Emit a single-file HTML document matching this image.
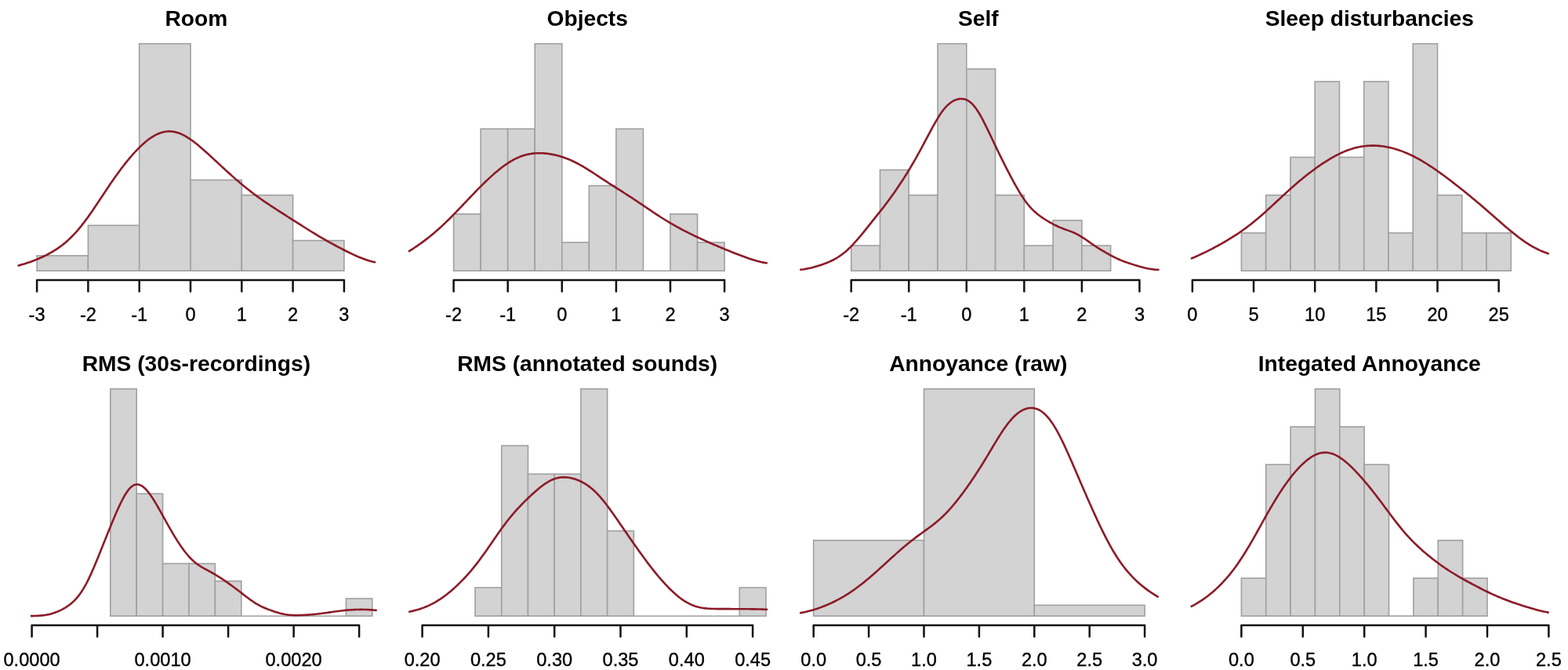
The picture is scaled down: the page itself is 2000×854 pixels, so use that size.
<!DOCTYPE html><html><head><meta charset="utf-8"><style>html,body{margin:0;padding:0;background:#fff}svg{display:block}</style></head><body>
<svg width="2000" height="854" viewBox="0 0 2000 854">
<rect width="2000" height="854" fill="#fff"/>
<text x="250.4" y="32.9" text-anchor="middle" font-family="Liberation Sans, Arial, sans-serif" font-weight="bold" font-size="28.2">Room</text>
<g fill="#d3d3d3" stroke="#a0a0a0" stroke-width="1.6"><rect x="47.1" y="325.9" width="65.3" height="19.3"/><rect x="112.4" y="287.3" width="65.3" height="57.9"/><rect x="177.7" y="55.7" width="65.3" height="289.5"/><rect x="243" y="229.4" width="65.3" height="115.8"/><rect x="308.3" y="248.7" width="65.3" height="96.5"/><rect x="373.6" y="306.6" width="65.3" height="38.6"/></g>
<path d="M23.6 338.39 L25.6 337.87 L27.6 337.32 L29.61 336.74 L31.61 336.14 L33.61 335.51 L35.61 334.85 L37.61 334.16 L39.61 333.45 L41.62 332.71 L43.62 331.95 L45.62 331.16 L47.62 330.34 L49.62 329.49 L51.62 328.62 L53.63 327.71 L55.63 326.78 L57.63 325.81 L59.63 324.8 L61.63 323.76 L63.64 322.68 L65.64 321.55 L67.64 320.38 L69.64 319.16 L71.64 317.89 L73.64 316.56 L75.65 315.17 L77.65 313.71 L79.65 312.2 L81.65 310.61 L83.65 308.95 L85.65 307.21 L87.66 305.39 L89.66 303.5 L91.66 301.52 L93.66 299.46 L95.66 297.33 L97.67 295.1 L99.67 292.8 L101.67 290.42 L103.67 287.96 L105.67 285.43 L107.67 282.82 L109.68 280.15 L111.68 277.42 L113.68 274.63 L115.68 271.79 L117.68 268.91 L119.68 265.98 L121.69 263.03 L123.69 260.04 L125.69 257.04 L127.69 254.03 L129.69 251.01 L131.7 247.99 L133.7 244.97 L135.7 241.97 L137.7 238.98 L139.7 236.02 L141.7 233.08 L143.71 230.17 L145.71 227.3 L147.71 224.47 L149.71 221.67 L151.71 218.92 L153.71 216.22 L155.72 213.57 L157.72 210.96 L159.72 208.41 L161.72 205.9 L163.72 203.46 L165.73 201.07 L167.73 198.74 L169.73 196.46 L171.73 194.25 L173.73 192.11 L175.73 190.03 L177.74 188.01 L179.74 186.07 L181.74 184.21 L183.74 182.42 L185.74 180.71 L187.74 179.09 L189.75 177.56 L191.75 176.13 L193.75 174.78 L195.75 173.55 L197.75 172.41 L199.76 171.39 L201.76 170.47 L203.76 169.67 L205.76 168.99 L207.76 168.43 L209.76 167.99 L211.77 167.68 L213.77 167.49 L215.77 167.42 L217.77 167.47 L219.77 167.65 L221.77 167.95 L223.78 168.37 L225.78 168.9 L227.78 169.55 L229.78 170.3 L231.78 171.16 L233.79 172.12 L235.79 173.17 L237.79 174.31 L239.79 175.54 L241.79 176.84 L243.79 178.22 L245.8 179.66 L247.8 181.17 L249.8 182.72 L251.8 184.33 L253.8 185.99 L255.8 187.68 L257.81 189.4 L259.81 191.16 L261.81 192.94 L263.81 194.74 L265.81 196.56 L267.81 198.39 L269.82 200.24 L271.82 202.09 L273.82 203.95 L275.82 205.8 L277.82 207.66 L279.83 209.52 L281.83 211.37 L283.83 213.22 L285.83 215.06 L287.83 216.89 L289.83 218.71 L291.84 220.52 L293.84 222.32 L295.84 224.11 L297.84 225.88 L299.84 227.63 L301.84 229.37 L303.85 231.09 L305.85 232.8 L307.85 234.48 L309.85 236.14 L311.85 237.79 L313.86 239.41 L315.86 241.01 L317.86 242.59 L319.86 244.15 L321.86 245.68 L323.86 247.19 L325.87 248.69 L327.87 250.16 L329.87 251.61 L331.87 253.04 L333.87 254.45 L335.87 255.85 L337.88 257.22 L339.88 258.58 L341.88 259.93 L343.88 261.27 L345.88 262.59 L347.89 263.9 L349.89 265.21 L351.89 266.51 L353.89 267.8 L355.89 269.08 L357.89 270.37 L359.9 271.65 L361.9 272.93 L363.9 274.2 L365.9 275.48 L367.9 276.76 L369.9 278.03 L371.91 279.31 L373.91 280.59 L375.91 281.87 L377.91 283.15 L379.91 284.42 L381.92 285.7 L383.92 286.97 L385.92 288.24 L387.92 289.5 L389.92 290.77 L391.92 292.02 L393.93 293.27 L395.93 294.51 L397.93 295.74 L399.93 296.96 L401.93 298.18 L403.93 299.38 L405.94 300.58 L407.94 301.76 L409.94 302.93 L411.94 304.09 L413.94 305.24 L415.95 306.38 L417.95 307.51 L419.95 308.63 L421.95 309.73 L423.95 310.83 L425.95 311.92 L427.96 313 L429.96 314.07 L431.96 315.13 L433.96 316.17 L435.96 317.21 L437.96 318.24 L439.97 319.26 L441.97 320.26 L443.97 321.25 L445.97 322.23 L447.97 323.19 L449.98 324.13 L451.98 325.06 L453.98 325.96 L455.98 326.83 L457.98 327.68 L459.98 328.5 L461.99 329.29 L463.99 330.05 L465.99 330.76 L467.99 331.44 L469.99 332.08 L471.99 332.67 L474 333.21 L476 333.7 L478 334.14" fill="none" stroke="#8c1b28" stroke-width="2.6" stroke-linejoin="round" stroke-linecap="round"/>
<path d="M47.1 357.1 H438.9 M47.1 357.1 V371.6 M112.4 357.1 V371.6 M177.7 357.1 V371.6 M243 357.1 V371.6 M308.3 357.1 V371.6 M373.6 357.1 V371.6 M438.9 357.1 V371.6" fill="none" stroke="#111" stroke-width="2.5" stroke-linecap="round" stroke-linejoin="round"/>
<text x="47.1" y="409.1" text-anchor="middle" font-family="Liberation Sans, Arial, sans-serif" font-size="23.6" stroke="#000" stroke-width="0.35">-3</text>
<text x="112.4" y="409.1" text-anchor="middle" font-family="Liberation Sans, Arial, sans-serif" font-size="23.6" stroke="#000" stroke-width="0.35">-2</text>
<text x="177.7" y="409.1" text-anchor="middle" font-family="Liberation Sans, Arial, sans-serif" font-size="23.6" stroke="#000" stroke-width="0.35">-1</text>
<text x="243" y="409.1" text-anchor="middle" font-family="Liberation Sans, Arial, sans-serif" font-size="23.6" stroke="#000" stroke-width="0.35">0</text>
<text x="308.3" y="409.1" text-anchor="middle" font-family="Liberation Sans, Arial, sans-serif" font-size="23.6" stroke="#000" stroke-width="0.35">1</text>
<text x="373.6" y="409.1" text-anchor="middle" font-family="Liberation Sans, Arial, sans-serif" font-size="23.6" stroke="#000" stroke-width="0.35">2</text>
<text x="438.9" y="409.1" text-anchor="middle" font-family="Liberation Sans, Arial, sans-serif" font-size="23.6" stroke="#000" stroke-width="0.35">3</text>
<text x="749.2" y="32.9" text-anchor="middle" font-family="Liberation Sans, Arial, sans-serif" font-weight="bold" font-size="28.2">Objects</text>
<g fill="#d3d3d3" stroke="#a0a0a0" stroke-width="1.6"><rect x="578.6" y="272.82" width="34.55" height="72.38"/><rect x="613.15" y="164.26" width="34.55" height="180.94"/><rect x="647.7" y="164.26" width="34.55" height="180.94"/><rect x="682.25" y="55.7" width="34.55" height="289.5"/><rect x="716.8" y="309.01" width="34.55" height="36.19"/><rect x="751.35" y="236.64" width="34.55" height="108.56"/><rect x="785.9" y="164.26" width="34.55" height="180.94"/><path d="M820.45 345.2 H855"/><rect x="855" y="272.82" width="34.55" height="72.38"/><rect x="889.55" y="309.01" width="34.55" height="36.19"/></g>
<path d="M521.9 320.11 L523.9 318.85 L525.9 317.57 L527.9 316.26 L529.9 314.93 L531.9 313.57 L533.9 312.18 L535.9 310.77 L537.9 309.33 L539.9 307.87 L541.9 306.37 L543.9 304.85 L545.9 303.29 L547.9 301.71 L549.9 300.09 L551.9 298.44 L553.9 296.76 L555.9 295.05 L557.9 293.3 L559.9 291.52 L561.9 289.71 L563.9 287.87 L565.9 285.99 L567.9 284.09 L569.9 282.16 L571.9 280.2 L573.9 278.22 L575.9 276.22 L577.9 274.19 L579.9 272.15 L581.9 270.09 L583.9 268.02 L585.9 265.93 L587.9 263.84 L589.9 261.74 L591.9 259.63 L593.9 257.53 L595.9 255.43 L597.9 253.33 L599.9 251.23 L601.9 249.14 L603.9 247.07 L605.9 245 L607.9 242.95 L609.9 240.91 L611.9 238.89 L613.9 236.89 L615.9 234.92 L617.9 232.96 L619.9 231.03 L621.9 229.12 L623.9 227.25 L625.9 225.41 L627.9 223.59 L629.9 221.82 L631.9 220.08 L633.9 218.39 L635.9 216.74 L637.9 215.13 L639.9 213.57 L641.9 212.07 L643.9 210.62 L645.9 209.22 L647.9 207.89 L649.9 206.61 L651.9 205.4 L653.9 204.26 L655.9 203.18 L657.9 202.17 L659.9 201.23 L661.9 200.36 L663.9 199.57 L665.9 198.84 L667.9 198.18 L669.9 197.59 L671.9 197.07 L673.9 196.62 L675.9 196.24 L677.9 195.91 L679.9 195.66 L681.9 195.46 L683.9 195.32 L685.9 195.23 L687.9 195.2 L689.9 195.23 L691.9 195.3 L693.9 195.42 L695.9 195.59 L697.9 195.8 L699.9 196.06 L701.9 196.36 L703.9 196.71 L705.9 197.1 L707.9 197.53 L709.9 198 L711.9 198.51 L713.9 199.07 L715.9 199.67 L717.9 200.31 L719.9 200.99 L721.9 201.72 L723.9 202.49 L725.9 203.31 L727.9 204.16 L729.9 205.06 L731.9 206.01 L733.9 206.99 L735.9 208.01 L737.9 209.07 L739.9 210.17 L741.9 211.3 L743.9 212.46 L745.9 213.65 L747.9 214.87 L749.9 216.1 L751.9 217.36 L753.9 218.64 L755.9 219.93 L757.9 221.23 L759.9 222.53 L761.9 223.85 L763.9 225.16 L765.9 226.48 L767.9 227.79 L769.9 229.1 L771.9 230.41 L773.9 231.71 L775.9 233 L777.9 234.29 L779.9 235.58 L781.9 236.85 L783.9 238.13 L785.9 239.4 L787.9 240.66 L789.9 241.93 L791.9 243.2 L793.9 244.46 L795.9 245.73 L797.9 247.01 L799.9 248.29 L801.9 249.58 L803.9 250.87 L805.9 252.17 L807.9 253.48 L809.9 254.8 L811.9 256.13 L813.9 257.46 L815.9 258.8 L817.9 260.15 L819.9 261.5 L821.9 262.86 L823.9 264.21 L825.9 265.57 L827.9 266.93 L829.9 268.28 L831.9 269.63 L833.9 270.97 L835.9 272.3 L837.9 273.62 L839.9 274.92 L841.9 276.22 L843.9 277.5 L845.9 278.76 L847.9 280.01 L849.9 281.24 L851.9 282.45 L853.9 283.64 L855.9 284.81 L857.9 285.97 L859.9 287.11 L861.9 288.23 L863.9 289.33 L865.9 290.42 L867.9 291.49 L869.9 292.55 L871.9 293.6 L873.9 294.63 L875.9 295.64 L877.9 296.65 L879.9 297.64 L881.9 298.63 L883.9 299.6 L885.9 300.56 L887.9 301.52 L889.9 302.46 L891.9 303.4 L893.9 304.32 L895.9 305.24 L897.9 306.15 L899.9 307.06 L901.9 307.95 L903.9 308.84 L905.9 309.72 L907.9 310.6 L909.9 311.46 L911.9 312.32 L913.9 313.18 L915.9 314.03 L917.9 314.87 L919.9 315.7 L921.9 316.54 L923.9 317.36 L925.9 318.18 L927.9 319 L929.9 319.81 L931.9 320.62 L933.9 321.42 L935.9 322.22 L937.9 323.01 L939.9 323.79 L941.9 324.57 L943.9 325.33 L945.9 326.09 L947.9 326.84 L949.9 327.57 L951.9 328.29 L953.9 328.99 L955.9 329.68 L957.9 330.34 L959.9 330.98 L961.9 331.59 L963.9 332.18 L965.9 332.74 L967.9 333.26 L969.9 333.75 L971.9 334.2 L973.9 334.61 L975.9 334.98 L977.9 335.31" fill="none" stroke="#8c1b28" stroke-width="2.6" stroke-linejoin="round" stroke-linecap="round"/>
<path d="M578.6 357.1 H924.1 M578.6 357.1 V371.6 M647.7 357.1 V371.6 M716.8 357.1 V371.6 M785.9 357.1 V371.6 M855 357.1 V371.6 M924.1 357.1 V371.6" fill="none" stroke="#111" stroke-width="2.5" stroke-linecap="round" stroke-linejoin="round"/>
<text x="578.6" y="409.1" text-anchor="middle" font-family="Liberation Sans, Arial, sans-serif" font-size="23.6" stroke="#000" stroke-width="0.35">-2</text>
<text x="647.7" y="409.1" text-anchor="middle" font-family="Liberation Sans, Arial, sans-serif" font-size="23.6" stroke="#000" stroke-width="0.35">-1</text>
<text x="716.8" y="409.1" text-anchor="middle" font-family="Liberation Sans, Arial, sans-serif" font-size="23.6" stroke="#000" stroke-width="0.35">0</text>
<text x="785.9" y="409.1" text-anchor="middle" font-family="Liberation Sans, Arial, sans-serif" font-size="23.6" stroke="#000" stroke-width="0.35">1</text>
<text x="855" y="409.1" text-anchor="middle" font-family="Liberation Sans, Arial, sans-serif" font-size="23.6" stroke="#000" stroke-width="0.35">2</text>
<text x="924.1" y="409.1" text-anchor="middle" font-family="Liberation Sans, Arial, sans-serif" font-size="23.6" stroke="#000" stroke-width="0.35">3</text>
<text x="1247.8" y="32.9" text-anchor="middle" font-family="Liberation Sans, Arial, sans-serif" font-weight="bold" font-size="28.2">Self</text>
<g fill="#d3d3d3" stroke="#a0a0a0" stroke-width="1.6"><rect x="1085.7" y="313.03" width="36.78" height="32.17"/><rect x="1122.48" y="216.53" width="36.77" height="128.67"/><rect x="1159.25" y="248.7" width="36.78" height="96.5"/><rect x="1196.03" y="55.7" width="36.77" height="289.5"/><rect x="1232.8" y="87.87" width="36.78" height="257.33"/><rect x="1269.58" y="248.7" width="36.77" height="96.5"/><rect x="1306.35" y="313.03" width="36.78" height="32.17"/><rect x="1343.12" y="280.87" width="36.78" height="64.33"/><rect x="1379.9" y="313.03" width="36.77" height="32.17"/></g>
<path d="M1021.3 343.8 L1023.3 343.54 L1025.3 343.24 L1027.3 342.89 L1029.3 342.51 L1031.3 342.1 L1033.31 341.65 L1035.31 341.16 L1037.31 340.65 L1039.31 340.1 L1041.31 339.53 L1043.31 338.94 L1045.31 338.31 L1047.31 337.66 L1049.31 336.98 L1051.31 336.27 L1053.31 335.52 L1055.31 334.73 L1057.32 333.89 L1059.32 332.99 L1061.32 332.04 L1063.32 331.02 L1065.32 329.93 L1067.32 328.76 L1069.32 327.52 L1071.32 326.19 L1073.32 324.77 L1075.32 323.26 L1077.32 321.66 L1079.33 319.97 L1081.33 318.19 L1083.33 316.32 L1085.33 314.36 L1087.33 312.31 L1089.33 310.18 L1091.33 307.97 L1093.33 305.7 L1095.33 303.36 L1097.33 300.98 L1099.33 298.55 L1101.34 296.1 L1103.34 293.62 L1105.34 291.13 L1107.34 288.64 L1109.34 286.14 L1111.34 283.65 L1113.34 281.15 L1115.34 278.66 L1117.34 276.17 L1119.34 273.67 L1121.34 271.16 L1123.34 268.63 L1125.35 266.08 L1127.35 263.49 L1129.35 260.88 L1131.35 258.22 L1133.35 255.53 L1135.35 252.8 L1137.35 250.04 L1139.35 247.23 L1141.35 244.39 L1143.35 241.5 L1145.35 238.57 L1147.36 235.6 L1149.36 232.59 L1151.36 229.52 L1153.36 226.41 L1155.36 223.24 L1157.36 220.02 L1159.36 216.74 L1161.36 213.41 L1163.36 210.02 L1165.36 206.59 L1167.36 203.1 L1169.36 199.56 L1171.37 195.98 L1173.37 192.35 L1175.37 188.68 L1177.37 184.97 L1179.37 181.23 L1181.37 177.46 L1183.37 173.69 L1185.37 169.91 L1187.37 166.16 L1189.37 162.45 L1191.37 158.81 L1193.38 155.27 L1195.38 151.85 L1197.38 148.59 L1199.38 145.51 L1201.38 142.63 L1203.38 139.97 L1205.38 137.54 L1207.38 135.36 L1209.38 133.42 L1211.38 131.71 L1213.38 130.24 L1215.39 128.99 L1217.39 127.96 L1219.39 127.14 L1221.39 126.53 L1223.39 126.12 L1225.39 125.93 L1227.39 125.96 L1229.39 126.24 L1231.39 126.77 L1233.39 127.58 L1235.39 128.69 L1237.39 130.11 L1239.4 131.85 L1241.4 133.92 L1243.4 136.3 L1245.4 139 L1247.4 141.99 L1249.4 145.25 L1251.4 148.75 L1253.4 152.46 L1255.4 156.33 L1257.4 160.33 L1259.4 164.43 L1261.41 168.59 L1263.41 172.8 L1265.41 177.01 L1267.41 181.23 L1269.41 185.42 L1271.41 189.59 L1273.41 193.72 L1275.41 197.82 L1277.41 201.88 L1279.41 205.9 L1281.41 209.88 L1283.41 213.82 L1285.42 217.72 L1287.42 221.58 L1289.42 225.39 L1291.42 229.14 L1293.42 232.83 L1295.42 236.45 L1297.42 239.97 L1299.42 243.39 L1301.42 246.69 L1303.42 249.87 L1305.42 252.9 L1307.43 255.77 L1309.43 258.48 L1311.43 261.03 L1313.43 263.4 L1315.43 265.61 L1317.43 267.66 L1319.43 269.57 L1321.43 271.34 L1323.43 272.99 L1325.43 274.54 L1327.43 276 L1329.44 277.38 L1331.44 278.71 L1333.44 279.99 L1335.44 281.23 L1337.44 282.42 L1339.44 283.58 L1341.44 284.7 L1343.44 285.78 L1345.44 286.81 L1347.44 287.79 L1349.44 288.72 L1351.44 289.6 L1353.45 290.42 L1355.45 291.2 L1357.45 291.94 L1359.45 292.67 L1361.45 293.38 L1363.45 294.1 L1365.45 294.85 L1367.45 295.64 L1369.45 296.48 L1371.45 297.4 L1373.45 298.39 L1375.46 299.46 L1377.46 300.6 L1379.46 301.82 L1381.46 303.1 L1383.46 304.43 L1385.46 305.8 L1387.46 307.19 L1389.46 308.58 L1391.46 309.98 L1393.46 311.35 L1395.46 312.71 L1397.46 314.03 L1399.47 315.33 L1401.47 316.6 L1403.47 317.84 L1405.47 319.05 L1407.47 320.24 L1409.47 321.41 L1411.47 322.56 L1413.47 323.69 L1415.47 324.79 L1417.47 325.87 L1419.47 326.92 L1421.48 327.93 L1423.48 328.91 L1425.48 329.84 L1427.48 330.74 L1429.48 331.59 L1431.48 332.4 L1433.48 333.17 L1435.48 333.91 L1437.48 334.62 L1439.48 335.31 L1441.48 335.98 L1443.49 336.62 L1445.49 337.26 L1447.49 337.88 L1449.49 338.5 L1451.49 339.09 L1453.49 339.68 L1455.49 340.24 L1457.49 340.77 L1459.49 341.28 L1461.49 341.75 L1463.49 342.17 L1465.49 342.56 L1467.5 342.89 L1469.5 343.18 L1471.5 343.41 L1473.5 343.59 L1475.5 343.72 L1477.5 343.8" fill="none" stroke="#8c1b28" stroke-width="2.6" stroke-linejoin="round" stroke-linecap="round"/>
<path d="M1085.7 357.1 H1453.45 M1085.7 357.1 V371.6 M1159.25 357.1 V371.6 M1232.8 357.1 V371.6 M1306.35 357.1 V371.6 M1379.9 357.1 V371.6 M1453.45 357.1 V371.6" fill="none" stroke="#111" stroke-width="2.5" stroke-linecap="round" stroke-linejoin="round"/>
<text x="1085.7" y="409.1" text-anchor="middle" font-family="Liberation Sans, Arial, sans-serif" font-size="23.6" stroke="#000" stroke-width="0.35">-2</text>
<text x="1159.25" y="409.1" text-anchor="middle" font-family="Liberation Sans, Arial, sans-serif" font-size="23.6" stroke="#000" stroke-width="0.35">-1</text>
<text x="1232.8" y="409.1" text-anchor="middle" font-family="Liberation Sans, Arial, sans-serif" font-size="23.6" stroke="#000" stroke-width="0.35">0</text>
<text x="1306.35" y="409.1" text-anchor="middle" font-family="Liberation Sans, Arial, sans-serif" font-size="23.6" stroke="#000" stroke-width="0.35">1</text>
<text x="1379.9" y="409.1" text-anchor="middle" font-family="Liberation Sans, Arial, sans-serif" font-size="23.6" stroke="#000" stroke-width="0.35">2</text>
<text x="1453.45" y="409.1" text-anchor="middle" font-family="Liberation Sans, Arial, sans-serif" font-size="23.6" stroke="#000" stroke-width="0.35">3</text>
<text x="1746.8" y="32.9" text-anchor="middle" font-family="Liberation Sans, Arial, sans-serif" font-weight="bold" font-size="28.2">Sleep disturbancies</text>
<g fill="#d3d3d3" stroke="#a0a0a0" stroke-width="1.6"><rect x="1583.42" y="296.95" width="31.26" height="48.25"/><rect x="1614.68" y="248.7" width="31.26" height="96.5"/><rect x="1645.94" y="200.45" width="31.26" height="144.75"/><rect x="1677.2" y="103.95" width="31.26" height="241.25"/><rect x="1708.46" y="200.45" width="31.26" height="144.75"/><rect x="1739.72" y="103.95" width="31.26" height="241.25"/><rect x="1770.98" y="296.95" width="31.26" height="48.25"/><rect x="1802.24" y="55.7" width="31.26" height="289.5"/><rect x="1833.5" y="248.7" width="31.26" height="96.5"/><rect x="1864.76" y="296.95" width="31.26" height="48.25"/><rect x="1896.02" y="296.95" width="31.26" height="48.25"/></g>
<path d="M1520 329.32 L1522 328.47 L1524.01 327.61 L1526.01 326.73 L1528.01 325.83 L1530.02 324.91 L1532.02 323.98 L1534.02 323.03 L1536.03 322.07 L1538.03 321.09 L1540.04 320.09 L1542.04 319.09 L1544.04 318.07 L1546.05 317.03 L1548.05 315.98 L1550.05 314.92 L1552.06 313.85 L1554.06 312.76 L1556.06 311.66 L1558.07 310.54 L1560.07 309.4 L1562.07 308.25 L1564.08 307.08 L1566.08 305.9 L1568.08 304.69 L1570.09 303.46 L1572.09 302.22 L1574.1 300.94 L1576.1 299.65 L1578.1 298.33 L1580.11 296.98 L1582.11 295.61 L1584.11 294.21 L1586.12 292.79 L1588.12 291.33 L1590.12 289.85 L1592.13 288.33 L1594.13 286.79 L1596.13 285.22 L1598.14 283.62 L1600.14 282 L1602.14 280.34 L1604.15 278.66 L1606.15 276.96 L1608.16 275.23 L1610.16 273.48 L1612.16 271.71 L1614.17 269.92 L1616.17 268.12 L1618.17 266.3 L1620.18 264.47 L1622.18 262.62 L1624.18 260.77 L1626.19 258.92 L1628.19 257.06 L1630.19 255.2 L1632.2 253.34 L1634.2 251.49 L1636.2 249.64 L1638.21 247.79 L1640.21 245.96 L1642.21 244.14 L1644.22 242.33 L1646.22 240.53 L1648.23 238.75 L1650.23 236.99 L1652.23 235.24 L1654.24 233.51 L1656.24 231.8 L1658.24 230.12 L1660.25 228.45 L1662.25 226.81 L1664.25 225.19 L1666.26 223.59 L1668.26 222.01 L1670.26 220.46 L1672.27 218.93 L1674.27 217.42 L1676.27 215.94 L1678.28 214.49 L1680.28 213.06 L1682.29 211.65 L1684.29 210.28 L1686.29 208.93 L1688.3 207.6 L1690.3 206.31 L1692.3 205.05 L1694.31 203.81 L1696.31 202.61 L1698.31 201.44 L1700.32 200.31 L1702.32 199.21 L1704.32 198.14 L1706.33 197.12 L1708.33 196.13 L1710.33 195.18 L1712.34 194.27 L1714.34 193.4 L1716.35 192.57 L1718.35 191.79 L1720.35 191.05 L1722.36 190.36 L1724.36 189.72 L1726.36 189.11 L1728.37 188.56 L1730.37 188.06 L1732.37 187.6 L1734.38 187.19 L1736.38 186.82 L1738.38 186.51 L1740.39 186.24 L1742.39 186.02 L1744.39 185.85 L1746.4 185.72 L1748.4 185.64 L1750.41 185.6 L1752.41 185.61 L1754.41 185.67 L1756.42 185.76 L1758.42 185.9 L1760.42 186.09 L1762.43 186.31 L1764.43 186.58 L1766.43 186.89 L1768.44 187.23 L1770.44 187.62 L1772.44 188.05 L1774.45 188.52 L1776.45 189.02 L1778.45 189.57 L1780.46 190.15 L1782.46 190.77 L1784.47 191.43 L1786.47 192.12 L1788.47 192.85 L1790.48 193.62 L1792.48 194.43 L1794.48 195.27 L1796.49 196.14 L1798.49 197.06 L1800.49 198 L1802.5 198.99 L1804.5 200 L1806.5 201.05 L1808.51 202.13 L1810.51 203.25 L1812.51 204.39 L1814.52 205.56 L1816.52 206.77 L1818.53 208 L1820.53 209.26 L1822.53 210.54 L1824.54 211.85 L1826.54 213.18 L1828.54 214.53 L1830.55 215.91 L1832.55 217.3 L1834.55 218.72 L1836.56 220.15 L1838.56 221.59 L1840.56 223.05 L1842.57 224.53 L1844.57 226.02 L1846.57 227.52 L1848.58 229.03 L1850.58 230.56 L1852.59 232.09 L1854.59 233.63 L1856.59 235.19 L1858.6 236.75 L1860.6 238.32 L1862.6 239.91 L1864.61 241.5 L1866.61 243.1 L1868.61 244.7 L1870.62 246.32 L1872.62 247.95 L1874.62 249.59 L1876.63 251.23 L1878.63 252.89 L1880.63 254.55 L1882.64 256.23 L1884.64 257.91 L1886.64 259.61 L1888.65 261.31 L1890.65 263.03 L1892.66 264.75 L1894.66 266.48 L1896.66 268.22 L1898.67 269.96 L1900.67 271.71 L1902.67 273.46 L1904.68 275.22 L1906.68 276.98 L1908.68 278.73 L1910.69 280.49 L1912.69 282.24 L1914.69 283.99 L1916.7 285.73 L1918.7 287.46 L1920.7 289.17 L1922.71 290.88 L1924.71 292.56 L1926.72 294.23 L1928.72 295.87 L1930.72 297.49 L1932.73 299.09 L1934.73 300.65 L1936.73 302.19 L1938.74 303.69 L1940.74 305.16 L1942.74 306.58 L1944.75 307.97 L1946.75 309.32 L1948.75 310.63 L1950.76 311.89 L1952.76 313.1 L1954.76 314.27 L1956.77 315.39 L1958.77 316.46 L1960.78 317.48 L1962.78 318.45 L1964.78 319.37 L1966.79 320.23 L1968.79 321.05 L1970.79 321.82 L1972.8 322.53 L1974.8 323.2" fill="none" stroke="#8c1b28" stroke-width="2.6" stroke-linejoin="round" stroke-linecap="round"/>
<path d="M1520.9 357.1 H1911.65 M1520.9 357.1 V371.6 M1599.05 357.1 V371.6 M1677.2 357.1 V371.6 M1755.35 357.1 V371.6 M1833.5 357.1 V371.6 M1911.65 357.1 V371.6" fill="none" stroke="#111" stroke-width="2.5" stroke-linecap="round" stroke-linejoin="round"/>
<text x="1520.9" y="409.1" text-anchor="middle" font-family="Liberation Sans, Arial, sans-serif" font-size="23.6" stroke="#000" stroke-width="0.35">0</text>
<text x="1599.05" y="409.1" text-anchor="middle" font-family="Liberation Sans, Arial, sans-serif" font-size="23.6" stroke="#000" stroke-width="0.35">5</text>
<text x="1677.2" y="409.1" text-anchor="middle" font-family="Liberation Sans, Arial, sans-serif" font-size="23.6" stroke="#000" stroke-width="0.35">10</text>
<text x="1755.35" y="409.1" text-anchor="middle" font-family="Liberation Sans, Arial, sans-serif" font-size="23.6" stroke="#000" stroke-width="0.35">15</text>
<text x="1833.5" y="409.1" text-anchor="middle" font-family="Liberation Sans, Arial, sans-serif" font-size="23.6" stroke="#000" stroke-width="0.35">20</text>
<text x="1911.65" y="409.1" text-anchor="middle" font-family="Liberation Sans, Arial, sans-serif" font-size="23.6" stroke="#000" stroke-width="0.35">25</text>
<text x="250.4" y="473.4" text-anchor="middle" font-family="Liberation Sans, Arial, sans-serif" font-weight="bold" font-size="28.2">RMS (30s-recordings)</text>
<g fill="#d3d3d3" stroke="#a0a0a0" stroke-width="1.6"><rect x="140.8" y="495.7" width="33.4" height="289.5"/><rect x="174.2" y="629.32" width="33.4" height="155.88"/><rect x="207.6" y="718.39" width="33.4" height="66.81"/><rect x="241" y="718.39" width="33.4" height="66.81"/><rect x="274.4" y="740.66" width="33.4" height="44.54"/><path d="M307.8 785.2 H341.2"/><path d="M341.2 785.2 H374.6"/><path d="M374.6 785.2 H408"/><path d="M408 785.2 H441.4"/><rect x="441.4" y="762.93" width="33.4" height="22.27"/></g>
<path d="M40 785.12 L42.01 785.08 L44.01 785.03 L46.02 784.96 L48.03 784.87 L50.04 784.75 L52.04 784.6 L54.05 784.41 L56.06 784.17 L58.07 783.88 L60.07 783.54 L62.08 783.13 L64.09 782.66 L66.09 782.13 L68.1 781.52 L70.11 780.84 L72.12 780.09 L74.12 779.27 L76.13 778.38 L78.14 777.41 L80.15 776.36 L82.15 775.24 L84.16 774.02 L86.17 772.7 L88.18 771.27 L90.18 769.72 L92.19 768.02 L94.2 766.16 L96.2 764.12 L98.21 761.89 L100.22 759.43 L102.23 756.74 L104.23 753.81 L106.24 750.62 L108.25 747.18 L110.26 743.5 L112.26 739.57 L114.27 735.42 L116.28 731.08 L118.28 726.56 L120.29 721.89 L122.3 717.1 L124.31 712.22 L126.31 707.28 L128.32 702.3 L130.33 697.3 L132.34 692.29 L134.34 687.3 L136.35 682.31 L138.36 677.36 L140.37 672.44 L142.37 667.56 L144.38 662.73 L146.39 657.98 L148.39 653.32 L150.4 648.78 L152.41 644.4 L154.42 640.21 L156.42 636.26 L158.43 632.58 L160.44 629.23 L162.45 626.23 L164.45 623.64 L166.46 621.48 L168.47 619.76 L170.47 618.51 L172.48 617.73 L174.49 617.42 L176.5 617.56 L178.5 618.13 L180.51 619.11 L182.52 620.47 L184.53 622.19 L186.53 624.22 L188.54 626.54 L190.55 629.11 L192.56 631.9 L194.56 634.89 L196.57 638.05 L198.58 641.34 L200.58 644.75 L202.59 648.25 L204.6 651.81 L206.61 655.42 L208.61 659.05 L210.62 662.69 L212.63 666.31 L214.64 669.89 L216.64 673.43 L218.65 676.92 L220.66 680.33 L222.66 683.67 L224.67 686.92 L226.68 690.09 L228.69 693.15 L230.69 696.11 L232.7 698.96 L234.71 701.69 L236.72 704.29 L238.72 706.76 L240.73 709.08 L242.74 711.25 L244.75 713.27 L246.75 715.15 L248.76 716.87 L250.77 718.46 L252.77 719.92 L254.78 721.27 L256.79 722.52 L258.8 723.7 L260.8 724.82 L262.81 725.9 L264.82 726.97 L266.83 728.04 L268.83 729.13 L270.84 730.24 L272.85 731.38 L274.85 732.56 L276.86 733.78 L278.87 735.04 L280.88 736.33 L282.88 737.65 L284.89 739 L286.9 740.38 L288.91 741.77 L290.91 743.18 L292.92 744.61 L294.93 746.06 L296.94 747.52 L298.94 749 L300.95 750.5 L302.96 752.02 L304.96 753.55 L306.97 755.09 L308.98 756.64 L310.99 758.19 L312.99 759.74 L315 761.26 L317.01 762.76 L319.02 764.23 L321.02 765.64 L323.03 767.01 L325.04 768.31 L327.04 769.54 L329.05 770.71 L331.06 771.81 L333.07 772.84 L335.07 773.8 L337.08 774.71 L339.09 775.57 L341.1 776.38 L343.1 777.15 L345.11 777.89 L347.12 778.59 L349.13 779.27 L351.13 779.91 L353.14 780.52 L355.15 781.1 L357.15 781.64 L359.16 782.13 L361.17 782.58 L363.18 782.98 L365.18 783.32 L367.19 783.6 L369.2 783.83 L371.21 784.01 L373.21 784.13 L375.22 784.21 L377.23 784.24 L379.23 784.24 L381.24 784.2 L383.25 784.14 L385.26 784.06 L387.26 783.96 L389.27 783.84 L391.28 783.72 L393.29 783.58 L395.29 783.43 L397.3 783.27 L399.31 783.1 L401.32 782.92 L403.32 782.72 L405.33 782.51 L407.34 782.28 L409.34 782.04 L411.35 781.78 L413.36 781.52 L415.37 781.24 L417.37 780.95 L419.38 780.66 L421.39 780.37 L423.4 780.07 L425.4 779.79 L427.41 779.5 L429.42 779.23 L431.42 778.96 L433.43 778.71 L435.44 778.47 L437.45 778.24 L439.45 778.03 L441.46 777.83 L443.47 777.65 L445.48 777.49 L447.48 777.35 L449.49 777.22 L451.5 777.12 L453.51 777.03 L455.51 776.97 L457.52 776.93 L459.53 776.91 L461.53 776.91 L463.54 776.93 L465.55 776.98 L467.56 777.05 L469.56 777.14 L471.57 777.25 L473.58 777.39 L475.59 777.54 L477.59 777.71 L479.6 777.9" fill="none" stroke="#8c1b28" stroke-width="2.6" stroke-linejoin="round" stroke-linecap="round"/>
<path d="M40.6 797.1 H458.1 M40.6 797.1 V811.6 M124.1 797.1 V811.6 M207.6 797.1 V811.6 M291.1 797.1 V811.6 M374.6 797.1 V811.6 M458.1 797.1 V811.6" fill="none" stroke="#111" stroke-width="2.5" stroke-linecap="round" stroke-linejoin="round"/>
<text x="40.6" y="849.1" text-anchor="middle" font-family="Liberation Sans, Arial, sans-serif" font-size="23.6" stroke="#000" stroke-width="0.35">0.0000</text>
<text x="207.6" y="849.1" text-anchor="middle" font-family="Liberation Sans, Arial, sans-serif" font-size="23.6" stroke="#000" stroke-width="0.35">0.0010</text>
<text x="374.6" y="849.1" text-anchor="middle" font-family="Liberation Sans, Arial, sans-serif" font-size="23.6" stroke="#000" stroke-width="0.35">0.0020</text>
<text x="749.2" y="473.4" text-anchor="middle" font-family="Liberation Sans, Arial, sans-serif" font-weight="bold" font-size="28.2">RMS (annotated sounds)</text>
<g fill="#d3d3d3" stroke="#a0a0a0" stroke-width="1.6"><rect x="606.04" y="749.01" width="33.72" height="36.19"/><rect x="639.76" y="568.08" width="33.72" height="217.12"/><rect x="673.48" y="604.26" width="33.72" height="180.94"/><rect x="707.2" y="604.26" width="33.72" height="180.94"/><rect x="740.92" y="495.7" width="33.72" height="289.5"/><rect x="774.64" y="676.64" width="33.72" height="108.56"/><path d="M808.36 785.2 H842.08"/><path d="M842.08 785.2 H875.8"/><path d="M875.8 785.2 H909.52"/><path d="M909.52 785.2 H943.24"/><rect x="943.24" y="749.01" width="33.72" height="36.19"/></g>
<path d="M522.2 779.77 L524.21 779.33 L526.22 778.86 L528.22 778.35 L530.23 777.82 L532.24 777.26 L534.25 776.65 L536.26 776.01 L538.26 775.33 L540.27 774.6 L542.28 773.82 L544.29 772.99 L546.3 772.12 L548.3 771.18 L550.31 770.2 L552.32 769.15 L554.33 768.05 L556.33 766.89 L558.34 765.67 L560.35 764.4 L562.36 763.07 L564.37 761.67 L566.37 760.23 L568.38 758.73 L570.39 757.17 L572.4 755.57 L574.41 753.91 L576.41 752.2 L578.42 750.44 L580.43 748.64 L582.44 746.78 L584.45 744.88 L586.45 742.92 L588.46 740.92 L590.47 738.87 L592.48 736.76 L594.49 734.6 L596.49 732.38 L598.5 730.11 L600.51 727.78 L602.52 725.39 L604.53 722.94 L606.53 720.43 L608.54 717.87 L610.55 715.25 L612.56 712.57 L614.56 709.84 L616.57 707.07 L618.58 704.25 L620.59 701.4 L622.6 698.51 L624.6 695.61 L626.61 692.69 L628.62 689.77 L630.63 686.85 L632.64 683.94 L634.64 681.05 L636.65 678.19 L638.66 675.37 L640.67 672.59 L642.68 669.87 L644.68 667.19 L646.69 664.58 L648.7 662.03 L650.71 659.54 L652.72 657.11 L654.72 654.74 L656.73 652.44 L658.74 650.19 L660.75 647.99 L662.76 645.85 L664.76 643.75 L666.77 641.69 L668.78 639.67 L670.79 637.68 L672.79 635.72 L674.8 633.8 L676.81 631.9 L678.82 630.04 L680.83 628.21 L682.83 626.43 L684.84 624.68 L686.85 622.98 L688.86 621.35 L690.87 619.77 L692.87 618.27 L694.88 616.85 L696.89 615.53 L698.9 614.3 L700.91 613.17 L702.91 612.16 L704.92 611.26 L706.93 610.48 L708.94 609.82 L710.95 609.28 L712.95 608.86 L714.96 608.56 L716.97 608.37 L718.98 608.3 L720.99 608.33 L722.99 608.47 L725 608.7 L727.01 609.03 L729.02 609.45 L731.02 609.96 L733.03 610.55 L735.04 611.22 L737.05 611.98 L739.06 612.82 L741.06 613.75 L743.07 614.78 L745.08 615.89 L747.09 617.11 L749.1 618.43 L751.1 619.85 L753.11 621.39 L755.12 623.04 L757.13 624.8 L759.14 626.68 L761.14 628.67 L763.15 630.77 L765.16 632.98 L767.17 635.29 L769.18 637.7 L771.18 640.19 L773.19 642.77 L775.2 645.42 L777.21 648.14 L779.21 650.9 L781.22 653.72 L783.23 656.56 L785.24 659.44 L787.25 662.34 L789.25 665.25 L791.26 668.17 L793.27 671.09 L795.28 674.01 L797.29 676.93 L799.29 679.84 L801.3 682.75 L803.31 685.64 L805.32 688.53 L807.33 691.4 L809.33 694.26 L811.34 697.1 L813.35 699.93 L815.36 702.74 L817.37 705.53 L819.37 708.3 L821.38 711.04 L823.39 713.76 L825.4 716.45 L827.41 719.11 L829.41 721.73 L831.42 724.31 L833.43 726.86 L835.44 729.37 L837.44 731.83 L839.45 734.24 L841.46 736.61 L843.47 738.94 L845.48 741.21 L847.48 743.42 L849.49 745.59 L851.5 747.7 L853.51 749.75 L855.52 751.73 L857.52 753.66 L859.53 755.52 L861.54 757.3 L863.55 759.02 L865.56 760.65 L867.56 762.21 L869.57 763.68 L871.58 765.07 L873.59 766.37 L875.6 767.57 L877.6 768.69 L879.61 769.71 L881.62 770.64 L883.63 771.48 L885.64 772.23 L887.64 772.9 L889.65 773.48 L891.66 773.99 L893.67 774.42 L895.67 774.79 L897.68 775.09 L899.69 775.34 L901.7 775.55 L903.71 775.71 L905.71 775.83 L907.72 775.93 L909.73 776 L911.74 776.05 L913.75 776.08 L915.75 776.11 L917.76 776.12 L919.77 776.13 L921.78 776.14 L923.79 776.15 L925.79 776.15 L927.8 776.16 L929.81 776.17 L931.82 776.17 L933.83 776.18 L935.83 776.19 L937.84 776.2 L939.85 776.21 L941.86 776.22 L943.87 776.23 L945.87 776.24 L947.88 776.25 L949.89 776.26 L951.9 776.28 L953.9 776.29 L955.91 776.31 L957.92 776.33 L959.93 776.35 L961.94 776.39 L963.94 776.42 L965.95 776.46 L967.96 776.52 L969.97 776.57 L971.98 776.64 L973.98 776.72 L975.99 776.8 L978 776.9" fill="none" stroke="#8c1b28" stroke-width="2.6" stroke-linejoin="round" stroke-linecap="round"/>
<path d="M538.6 797.1 H960.1 M538.6 797.1 V811.6 M622.9 797.1 V811.6 M707.2 797.1 V811.6 M791.5 797.1 V811.6 M875.8 797.1 V811.6 M960.1 797.1 V811.6" fill="none" stroke="#111" stroke-width="2.5" stroke-linecap="round" stroke-linejoin="round"/>
<text x="538.6" y="849.1" text-anchor="middle" font-family="Liberation Sans, Arial, sans-serif" font-size="23.6" stroke="#000" stroke-width="0.35">0.20</text>
<text x="622.9" y="849.1" text-anchor="middle" font-family="Liberation Sans, Arial, sans-serif" font-size="23.6" stroke="#000" stroke-width="0.35">0.25</text>
<text x="707.2" y="849.1" text-anchor="middle" font-family="Liberation Sans, Arial, sans-serif" font-size="23.6" stroke="#000" stroke-width="0.35">0.30</text>
<text x="791.5" y="849.1" text-anchor="middle" font-family="Liberation Sans, Arial, sans-serif" font-size="23.6" stroke="#000" stroke-width="0.35">0.35</text>
<text x="875.8" y="849.1" text-anchor="middle" font-family="Liberation Sans, Arial, sans-serif" font-size="23.6" stroke="#000" stroke-width="0.35">0.40</text>
<text x="960.1" y="849.1" text-anchor="middle" font-family="Liberation Sans, Arial, sans-serif" font-size="23.6" stroke="#000" stroke-width="0.35">0.45</text>
<text x="1247.8" y="473.4" text-anchor="middle" font-family="Liberation Sans, Arial, sans-serif" font-weight="bold" font-size="28.2">Annoyance (raw)</text>
<g fill="#d3d3d3" stroke="#a0a0a0" stroke-width="1.6"><rect x="1037.7" y="688.7" width="140.8" height="96.5"/><rect x="1178.5" y="495.7" width="140.8" height="289.5"/><rect x="1319.3" y="771.41" width="140.8" height="13.79"/></g>
<path d="M1021.1 781.28 L1023.11 780.89 L1025.11 780.48 L1027.12 780.04 L1029.13 779.57 L1031.14 779.07 L1033.14 778.55 L1035.15 778 L1037.16 777.42 L1039.17 776.81 L1041.17 776.18 L1043.18 775.51 L1045.19 774.82 L1047.2 774.1 L1049.2 773.34 L1051.21 772.56 L1053.22 771.75 L1055.23 770.91 L1057.23 770.03 L1059.24 769.13 L1061.25 768.2 L1063.26 767.23 L1065.26 766.24 L1067.27 765.21 L1069.28 764.16 L1071.29 763.07 L1073.29 761.94 L1075.3 760.79 L1077.31 759.6 L1079.32 758.37 L1081.32 757.12 L1083.33 755.82 L1085.34 754.49 L1087.35 753.13 L1089.35 751.73 L1091.36 750.29 L1093.37 748.82 L1095.38 747.32 L1097.38 745.78 L1099.39 744.21 L1101.4 742.61 L1103.41 740.98 L1105.41 739.33 L1107.42 737.65 L1109.43 735.94 L1111.44 734.21 L1113.44 732.46 L1115.45 730.7 L1117.46 728.92 L1119.47 727.13 L1121.47 725.33 L1123.48 723.51 L1125.49 721.7 L1127.5 719.87 L1129.5 718.05 L1131.51 716.22 L1133.52 714.4 L1135.53 712.57 L1137.53 710.76 L1139.54 708.95 L1141.55 707.14 L1143.56 705.35 L1145.56 703.57 L1147.57 701.81 L1149.58 700.06 L1151.59 698.34 L1153.59 696.63 L1155.6 694.95 L1157.61 693.29 L1159.62 691.65 L1161.62 690.05 L1163.63 688.47 L1165.64 686.91 L1167.65 685.39 L1169.65 683.88 L1171.66 682.4 L1173.67 680.93 L1175.68 679.48 L1177.68 678.03 L1179.69 676.59 L1181.7 675.15 L1183.71 673.69 L1185.71 672.22 L1187.72 670.72 L1189.73 669.19 L1191.74 667.63 L1193.74 666.01 L1195.75 664.35 L1197.76 662.62 L1199.77 660.84 L1201.77 658.98 L1203.78 657.06 L1205.79 655.07 L1207.8 653 L1209.8 650.86 L1211.81 648.65 L1213.82 646.37 L1215.83 644.02 L1217.83 641.61 L1219.84 639.13 L1221.85 636.6 L1223.86 634.02 L1225.86 631.38 L1227.87 628.7 L1229.88 625.97 L1231.89 623.2 L1233.89 620.39 L1235.9 617.53 L1237.91 614.64 L1239.92 611.7 L1241.92 608.73 L1243.93 605.71 L1245.94 602.64 L1247.95 599.54 L1249.95 596.39 L1251.96 593.2 L1253.97 589.97 L1255.98 586.7 L1257.98 583.39 L1259.99 580.06 L1262 576.71 L1264.01 573.35 L1266.01 569.99 L1268.02 566.64 L1270.03 563.32 L1272.04 560.03 L1274.04 556.79 L1276.05 553.62 L1278.06 550.53 L1280.07 547.54 L1282.07 544.66 L1284.08 541.9 L1286.09 539.27 L1288.1 536.78 L1290.1 534.45 L1292.11 532.28 L1294.12 530.28 L1296.13 528.44 L1298.13 526.78 L1300.14 525.3 L1302.15 523.99 L1304.16 522.87 L1306.16 521.92 L1308.17 521.16 L1310.18 520.58 L1312.19 520.19 L1314.19 519.98 L1316.2 519.97 L1318.21 520.16 L1320.22 520.55 L1322.22 521.15 L1324.23 521.96 L1326.24 522.98 L1328.25 524.24 L1330.25 525.72 L1332.26 527.44 L1334.27 529.39 L1336.28 531.58 L1338.28 534 L1340.29 536.65 L1342.3 539.53 L1344.31 542.63 L1346.31 545.93 L1348.32 549.44 L1350.33 553.12 L1352.34 556.98 L1354.34 560.99 L1356.35 565.13 L1358.36 569.39 L1360.37 573.75 L1362.37 578.2 L1364.38 582.71 L1366.39 587.28 L1368.4 591.89 L1370.4 596.53 L1372.41 601.18 L1374.42 605.85 L1376.43 610.51 L1378.43 615.17 L1380.44 619.82 L1382.45 624.46 L1384.46 629.07 L1386.46 633.67 L1388.47 638.23 L1390.48 642.77 L1392.49 647.28 L1394.49 651.74 L1396.5 656.16 L1398.51 660.54 L1400.52 664.85 L1402.52 669.11 L1404.53 673.3 L1406.54 677.41 L1408.55 681.44 L1410.55 685.38 L1412.56 689.22 L1414.57 692.96 L1416.58 696.59 L1418.58 700.11 L1420.59 703.52 L1422.6 706.8 L1424.61 709.97 L1426.61 713.02 L1428.62 715.96 L1430.63 718.78 L1432.64 721.48 L1434.64 724.08 L1436.65 726.57 L1438.66 728.96 L1440.67 731.25 L1442.67 733.46 L1444.68 735.57 L1446.69 737.6 L1448.7 739.56 L1450.7 741.44 L1452.71 743.25 L1454.72 744.99 L1456.73 746.67 L1458.73 748.29 L1460.74 749.86 L1462.75 751.37 L1464.76 752.83 L1466.76 754.25 L1468.77 755.61 L1470.78 756.94 L1472.79 758.22 L1474.79 759.47 L1476.8 760.68" fill="none" stroke="#8c1b28" stroke-width="2.6" stroke-linejoin="round" stroke-linecap="round"/>
<path d="M1037.7 797.1 H1460.1 M1037.7 797.1 V811.6 M1108.1 797.1 V811.6 M1178.5 797.1 V811.6 M1248.9 797.1 V811.6 M1319.3 797.1 V811.6 M1389.7 797.1 V811.6 M1460.1 797.1 V811.6" fill="none" stroke="#111" stroke-width="2.5" stroke-linecap="round" stroke-linejoin="round"/>
<text x="1037.7" y="849.1" text-anchor="middle" font-family="Liberation Sans, Arial, sans-serif" font-size="23.6" stroke="#000" stroke-width="0.35">0.0</text>
<text x="1108.1" y="849.1" text-anchor="middle" font-family="Liberation Sans, Arial, sans-serif" font-size="23.6" stroke="#000" stroke-width="0.35">0.5</text>
<text x="1178.5" y="849.1" text-anchor="middle" font-family="Liberation Sans, Arial, sans-serif" font-size="23.6" stroke="#000" stroke-width="0.35">1.0</text>
<text x="1248.9" y="849.1" text-anchor="middle" font-family="Liberation Sans, Arial, sans-serif" font-size="23.6" stroke="#000" stroke-width="0.35">1.5</text>
<text x="1319.3" y="849.1" text-anchor="middle" font-family="Liberation Sans, Arial, sans-serif" font-size="23.6" stroke="#000" stroke-width="0.35">2.0</text>
<text x="1389.7" y="849.1" text-anchor="middle" font-family="Liberation Sans, Arial, sans-serif" font-size="23.6" stroke="#000" stroke-width="0.35">2.5</text>
<text x="1460.1" y="849.1" text-anchor="middle" font-family="Liberation Sans, Arial, sans-serif" font-size="23.6" stroke="#000" stroke-width="0.35">3.0</text>
<text x="1746.8" y="473.4" text-anchor="middle" font-family="Liberation Sans, Arial, sans-serif" font-weight="bold" font-size="28.2">Integated Annoyance</text>
<g fill="#d3d3d3" stroke="#a0a0a0" stroke-width="1.6"><rect x="1583.4" y="736.95" width="31.36" height="48.25"/><rect x="1614.76" y="592.2" width="31.36" height="193"/><rect x="1646.12" y="543.95" width="31.36" height="241.25"/><rect x="1677.48" y="495.7" width="31.36" height="289.5"/><rect x="1708.84" y="543.95" width="31.36" height="241.25"/><rect x="1740.2" y="592.2" width="31.36" height="193"/><path d="M1771.56 785.2 H1802.92"/><rect x="1802.92" y="736.95" width="31.36" height="48.25"/><rect x="1834.28" y="688.7" width="31.36" height="96.5"/><rect x="1865.64" y="736.95" width="31.36" height="48.25"/></g>
<path d="M1519.7 772.91 L1521.7 771.87 L1523.71 770.79 L1525.71 769.65 L1527.72 768.45 L1529.72 767.21 L1531.73 765.92 L1533.73 764.58 L1535.74 763.18 L1537.74 761.74 L1539.74 760.24 L1541.75 758.69 L1543.75 757.08 L1545.76 755.43 L1547.76 753.71 L1549.77 751.94 L1551.77 750.11 L1553.77 748.22 L1555.78 746.26 L1557.78 744.24 L1559.79 742.15 L1561.79 739.99 L1563.8 737.75 L1565.8 735.45 L1567.81 733.06 L1569.81 730.6 L1571.81 728.05 L1573.82 725.42 L1575.82 722.72 L1577.83 719.92 L1579.83 717.05 L1581.84 714.1 L1583.84 711.06 L1585.85 707.95 L1587.85 704.77 L1589.85 701.51 L1591.86 698.19 L1593.86 694.82 L1595.87 691.38 L1597.87 687.9 L1599.88 684.38 L1601.88 680.83 L1603.89 677.25 L1605.89 673.66 L1607.89 670.05 L1609.9 666.44 L1611.9 662.85 L1613.91 659.26 L1615.91 655.71 L1617.92 652.18 L1619.92 648.68 L1621.92 645.24 L1623.93 641.84 L1625.93 638.5 L1627.94 635.21 L1629.94 631.99 L1631.95 628.84 L1633.95 625.76 L1635.96 622.75 L1637.96 619.82 L1639.96 616.96 L1641.97 614.18 L1643.97 611.48 L1645.98 608.86 L1647.98 606.32 L1649.99 603.87 L1651.99 601.5 L1654 599.21 L1656 597.01 L1658 594.91 L1660.01 592.89 L1662.01 590.97 L1664.02 589.16 L1666.02 587.44 L1668.03 585.84 L1670.03 584.35 L1672.03 582.98 L1674.04 581.74 L1676.04 580.62 L1678.05 579.64 L1680.05 578.8 L1682.06 578.09 L1684.06 577.54 L1686.07 577.14 L1688.07 576.89 L1690.07 576.79 L1692.08 576.84 L1694.08 577.05 L1696.09 577.41 L1698.09 577.92 L1700.1 578.58 L1702.1 579.38 L1704.11 580.31 L1706.11 581.37 L1708.11 582.56 L1710.12 583.87 L1712.12 585.28 L1714.13 586.8 L1716.13 588.41 L1718.14 590.12 L1720.14 591.9 L1722.14 593.75 L1724.15 595.68 L1726.15 597.66 L1728.16 599.71 L1730.16 601.8 L1732.17 603.95 L1734.17 606.15 L1736.18 608.38 L1738.18 610.66 L1740.18 612.98 L1742.19 615.34 L1744.19 617.74 L1746.2 620.18 L1748.2 622.65 L1750.21 625.16 L1752.21 627.7 L1754.22 630.27 L1756.22 632.87 L1758.22 635.5 L1760.23 638.15 L1762.23 640.82 L1764.24 643.51 L1766.24 646.2 L1768.25 648.9 L1770.25 651.6 L1772.26 654.29 L1774.26 656.96 L1776.26 659.62 L1778.27 662.25 L1780.27 664.85 L1782.28 667.41 L1784.28 669.93 L1786.29 672.41 L1788.29 674.84 L1790.29 677.22 L1792.3 679.54 L1794.3 681.81 L1796.31 684.03 L1798.31 686.19 L1800.32 688.29 L1802.32 690.35 L1804.33 692.35 L1806.33 694.3 L1808.33 696.21 L1810.34 698.07 L1812.34 699.89 L1814.35 701.68 L1816.35 703.42 L1818.36 705.13 L1820.36 706.81 L1822.37 708.46 L1824.37 710.08 L1826.37 711.67 L1828.38 713.24 L1830.38 714.78 L1832.39 716.29 L1834.39 717.78 L1836.4 719.24 L1838.4 720.68 L1840.4 722.09 L1842.41 723.48 L1844.41 724.83 L1846.42 726.17 L1848.42 727.48 L1850.43 728.76 L1852.43 730.02 L1854.44 731.26 L1856.44 732.48 L1858.44 733.67 L1860.45 734.85 L1862.45 736.01 L1864.46 737.15 L1866.46 738.28 L1868.47 739.39 L1870.47 740.5 L1872.48 741.59 L1874.48 742.67 L1876.48 743.75 L1878.49 744.81 L1880.49 745.87 L1882.5 746.93 L1884.5 747.97 L1886.51 749.01 L1888.51 750.03 L1890.51 751.05 L1892.52 752.06 L1894.52 753.05 L1896.53 754.03 L1898.53 755 L1900.54 755.95 L1902.54 756.89 L1904.55 757.81 L1906.55 758.71 L1908.55 759.6 L1910.56 760.46 L1912.56 761.31 L1914.57 762.13 L1916.57 762.94 L1918.58 763.73 L1920.58 764.51 L1922.59 765.26 L1924.59 766 L1926.59 766.73 L1928.6 767.44 L1930.6 768.15 L1932.61 768.84 L1934.61 769.52 L1936.62 770.18 L1938.62 770.84 L1940.63 771.5 L1942.63 772.14 L1944.63 772.77 L1946.64 773.4 L1948.64 774.02 L1950.65 774.62 L1952.65 775.22 L1954.66 775.8 L1956.66 776.37 L1958.66 776.92 L1960.67 777.46 L1962.67 777.98 L1964.68 778.48 L1966.68 778.95 L1968.69 779.41 L1970.69 779.84 L1972.7 780.25 L1974.7 780.63" fill="none" stroke="#8c1b28" stroke-width="2.6" stroke-linejoin="round" stroke-linecap="round"/>
<path d="M1583.4 797.1 H1975.4 M1583.4 797.1 V811.6 M1661.8 797.1 V811.6 M1740.2 797.1 V811.6 M1818.6 797.1 V811.6 M1897 797.1 V811.6 M1975.4 797.1 V811.6" fill="none" stroke="#111" stroke-width="2.5" stroke-linecap="round" stroke-linejoin="round"/>
<text x="1583.4" y="849.1" text-anchor="middle" font-family="Liberation Sans, Arial, sans-serif" font-size="23.6" stroke="#000" stroke-width="0.35">0.0</text>
<text x="1661.8" y="849.1" text-anchor="middle" font-family="Liberation Sans, Arial, sans-serif" font-size="23.6" stroke="#000" stroke-width="0.35">0.5</text>
<text x="1740.2" y="849.1" text-anchor="middle" font-family="Liberation Sans, Arial, sans-serif" font-size="23.6" stroke="#000" stroke-width="0.35">1.0</text>
<text x="1818.6" y="849.1" text-anchor="middle" font-family="Liberation Sans, Arial, sans-serif" font-size="23.6" stroke="#000" stroke-width="0.35">1.5</text>
<text x="1897" y="849.1" text-anchor="middle" font-family="Liberation Sans, Arial, sans-serif" font-size="23.6" stroke="#000" stroke-width="0.35">2.0</text>
<text x="1975.4" y="849.1" text-anchor="middle" font-family="Liberation Sans, Arial, sans-serif" font-size="23.6" stroke="#000" stroke-width="0.35">2.5</text>
</svg></body></html>
